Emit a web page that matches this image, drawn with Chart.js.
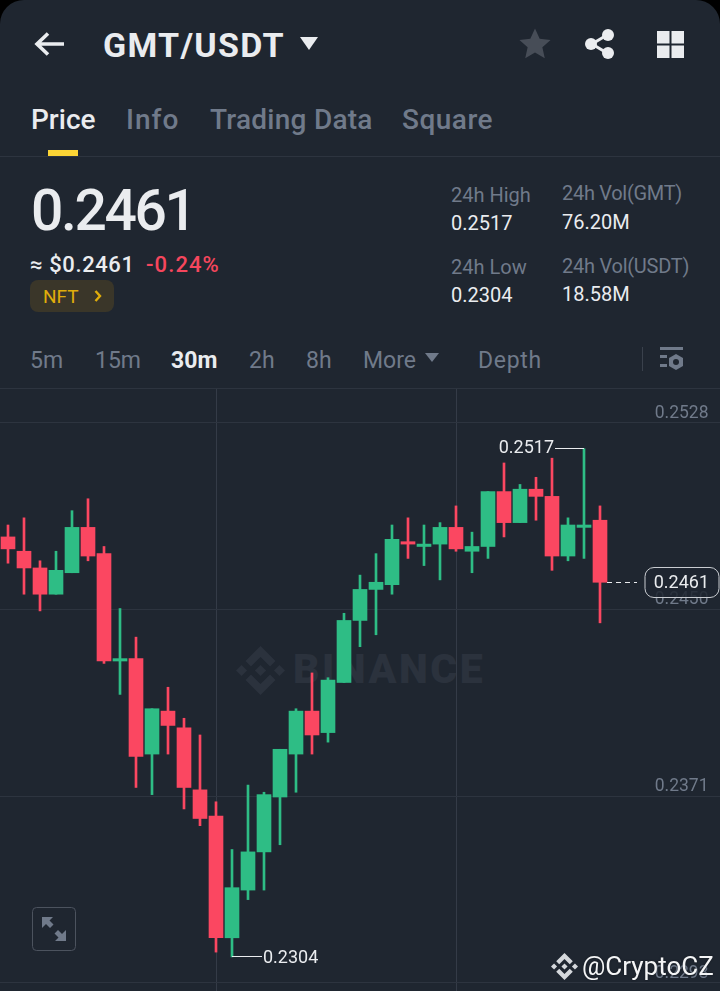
<!DOCTYPE html>
<html>
<head>
<meta charset="utf-8">
<title>GMT/USDT</title>
<script src="https://cdn.jsdelivr.net/npm/chart.js@4/dist/chart.umd.min.js"></script>
<style>
html,body{margin:0;padding:0;background:#000;}
#page{position:relative;width:720px;height:991px;overflow:hidden;background:#1f2630;border-radius:24px 24px 0 0;font-family:Roboto,"Noto Sans",sans-serif;}
#page span,#page svg,#page div{position:absolute;}
.t{white-space:nowrap;line-height:1;}
.w{color:#eaecef;}
.g{color:#707a8a;}
.tab{font-size:28px;font-weight:500;top:106px;}
.stat{font-size:20px;}
.tf{font-size:23px;top:349px;}
.line{left:0;width:720px;height:1px;background:#2d343f;}
#chart{position:absolute;left:0;top:389px;width:720px;height:602px;}
</style>
</head>
<body>
<div id="page">
<svg style="left:33px;top:30px" width="34" height="28" viewBox="0 0 34 28"><path d="M31 14H5M15 3.500L4 14l11 10.500" fill="none" stroke="#eaecef" stroke-width="3.600"/></svg>
<span class="t w" style="left:103px;top:28px;font-size:34px;font-weight:700;letter-spacing:1.300px">GMT/USDT</span>
<svg style="left:300px;top:37px" width="18" height="13"><path d="M0 0h18l-9 13z" fill="#eaecef"/></svg>
<svg style="left:518px;top:27px" width="34" height="34" viewBox="0 0 24 24"><path d="M12 1l3.300 7.300 7.700.8-5.800 5.200 1.700 7.700-6.900-4-6.900 4 1.700-7.700L1 9.100l7.700-.8z" fill="#474d57"/></svg>
<svg style="left:584px;top:28px" width="31" height="32" viewBox="0 0 31 32"><path d="M23 7L8 16l15 9" fill="none" stroke="#eaecef" stroke-width="3"/><circle cx="24" cy="7" r="6" fill="#eaecef"/><circle cx="7" cy="16" r="6" fill="#eaecef"/><circle cx="24" cy="25" r="6" fill="#eaecef"/></svg>
<svg style="left:657px;top:31px" width="27" height="27"><path d="M0 0h12.500v12.500H0zM14.500 0H27v12.500H14.500zM0 14.500h12.500V27H0zM14.500 14.500H27V27H14.500z" fill="#eaecef"/></svg>

<span class="t w tab" style="left:31px">Price</span>
<span class="t g tab" style="left:126px;letter-spacing:1px">Info</span>
<span class="t g tab" style="left:210px;letter-spacing:.25px">Trading Data</span>
<span class="t g tab" style="left:402px;letter-spacing:.5px">Square</span>
<div style="left:48px;top:150px;width:30px;height:6px;background:#fcd535"></div>
<div class="line" style="top:156px"></div>

<span class="t w" style="left:31px;top:182px;font-size:57px;font-weight:500;letter-spacing:-2.400px">0.2461</span>
<span class="t w" style="left:30px;top:254px;font-size:22px;font-weight:500;letter-spacing:.6px">≈ $0.2461</span>
<span class="t" style="left:146px;top:254px;font-size:22px;font-weight:500;letter-spacing:1.100px;color:#f6465d">-0.24%</span>
<div style="left:30px;top:280px;width:84px;height:32px;background:#3a3629;border-radius:8px"></div>
<span class="t" style="left:43px;top:287px;font-size:19px;color:#e0ad0b">NFT</span>
<svg style="left:94px;top:290px" width="8" height="12"><path d="M1.500 1l4.500 5-4.500 5" fill="none" stroke="#e0ad0b" stroke-width="2.400"/></svg>

<span class="t g stat" style="left:451px;top:185px">24h High</span>
<span class="t w stat" style="left:451px;top:213px">0.2517</span>
<span class="t g stat" style="left:451px;top:257px">24h Low</span>
<span class="t w stat" style="left:451px;top:285px">0.2304</span>
<span class="t g stat" style="left:562px;top:183px;letter-spacing:-.3px">24h Vol(GMT)</span>
<span class="t w stat" style="left:562px;top:212px">76.20M</span>
<span class="t g stat" style="left:562px;top:256px;letter-spacing:-.25px">24h Vol(USDT)</span>
<span class="t w stat" style="left:562px;top:284px">18.58M</span>

<span class="t g tf" style="left:30px">5m</span>
<span class="t g tf" style="left:95px">15m</span>
<span class="t w tf" style="left:171px;font-weight:700">30m</span>
<span class="t g tf" style="left:249px">2h</span>
<span class="t g tf" style="left:306px">8h</span>
<span class="t g tf" style="left:363px">More</span>
<svg style="left:425px;top:353px" width="14" height="9"><path d="M0 0h14l-7 9z" fill="#707a8a"/></svg>
<span class="t g tf" style="left:478px;letter-spacing:.7px">Depth</span>
<div style="left:642px;top:347px;width:1px;height:24px;background:#3a414c"></div>
<svg style="left:660px;top:346px" width="24" height="26" viewBox="0 0 24 26"><path d="M0 1h23v3H0zM0 9h7v3H0zM0 18h7v3H0z" fill="#707a8a"/><path d="M16 8l7 4v8l-7 4-7-4v-8z" fill="#707a8a"/><circle cx="16" cy="16" r="3" fill="#1f2630"/></svg>
<div class="line" style="top:388px"></div>

<!-- watermark sits behind the transparent canvas -->
<svg style="left:236px;top:646px" width="49" height="49" viewBox="0 0 126.610 126.610"><g fill="#2b323d"><path d="M38.730 53.200l24.590-24.580 24.600 24.600 14.300-14.310L63.320 0 24.430 38.900z"/><path d="M0 63.310L14.300 49l14.310 14.310-14.310 14.300z"/><path d="M38.730 73.410L63.320 98l24.600-24.600 14.310 14.290-38.910 38.920-38.890-38.900z"/><path d="M98 63.310L112.300 49l14.310 14.300-14.310 14.320z"/><path d="M77.830 63.300L63.320 48.780 48.810 63.280l14.510 14.500z"/></g></svg>
<span class="t" style="left:293px;top:649px;font-size:41px;font-weight:900;letter-spacing:2.500px;color:#2b323d">BINANCE</span>

<canvas id="chart" width="720" height="602"></canvas>

<svg style="left:32px;top:907px" width="44" height="44"><rect x=".5" y=".5" width="43" height="43" rx="4" fill="none" stroke="#4c535e"/><path d="M10 10h11l-3.500 3.500 4 4-3.500 3.500-4-4L10 21zM34 34H23l3.500-3.500-4-4 3.500-3.500 4 4L34 23z" fill="#707a8a"/></svg>

<svg style="left:551px;top:953px" width="27" height="27" viewBox="0 0 126.610 126.610"><g fill="#d5d8dc"><path d="M38.730 53.200l24.590-24.580 24.600 24.600 14.300-14.310L63.320 0 24.430 38.900z"/><path d="M0 63.310L14.300 49l14.310 14.310-14.310 14.300z"/><path d="M38.730 73.410L63.320 98l24.600-24.600 14.310 14.290-38.910 38.920-38.890-38.900z"/><path d="M98 63.310L112.300 49l14.310 14.300-14.310 14.320z"/><path d="M77.830 63.300L63.320 48.780 48.810 63.280l14.510 14.500z"/></g></svg>
<span class="t" style="left:582px;top:953px;font-size:26px;color:#f4f5f6;text-shadow:0 0 2px #14181f">@CryptoCZ</span>
</div>

<script>
// 30m candles
const opens = [0.2480,0.2474,0.2467,0.2456,0.2465,0.2484,0.2473,0.2428,0.2429,0.2389,0.2407,0.2400,0.2374,0.2363,0.2312,0.2332,0.2348,0.2371,0.2389,0.2407,0.2398,0.2419,0.2445,0.2458,0.2460,0.2478,0.2476,0.2477,0.2484,0.2474,0.2476,0.2499,0.2486,0.2500,0.2497,0.2472,0.2484,0.2487]
const closes = [0.2475,0.2467,0.2456,0.2466,0.2484,0.2472,0.2428,0.2429,0.2388,0.2408,0.2401,0.2375,0.2362,0.2312,0.2333,0.2348,0.2372,0.2391,0.2407,0.2397,0.2420,0.2445,0.2458,0.2461,0.2479,0.2477,0.2477,0.2484,0.2475,0.2476,0.2499,0.2486,0.2500,0.2497,0.2472,0.2485,0.2485,0.2461]
const highs = [0.2485,0.2488,0.2470,0.2474,0.2491,0.2496,0.2476,0.2450,0.2438,0.2408,0.2417,0.2404,0.2397,0.2369,0.2349,0.2376,0.2373,0.2391,0.2408,0.2423,0.2421,0.2448,0.2464,0.2473,0.2485,0.2488,0.2485,0.2486,0.2493,0.2482,0.2499,0.2511,0.2502,0.2505,0.2513,0.2488,0.2517,0.2493]
const lows = [0.2469,0.2456,0.2449,0.2456,0.2465,0.2470,0.2427,0.2414,0.2375,0.2372,0.2389,0.2366,0.2359,0.2306,0.2304,0.2328,0.2332,0.2351,0.2373,0.2389,0.2394,0.2419,0.2434,0.2439,0.2456,0.2471,0.2468,0.2462,0.2474,0.2465,0.2471,0.2480,0.2486,0.2487,0.2466,0.2470,0.2471,0.2444]

// the right side of the chart is empty room after the last candle
const emptySlots = 7
const slots = opens.map((o,i)=>i).concat(Array.from({length:emptySlots},(v,i)=>opens.length+i))
const priceTicks = [0.25278,0.24496,0.23714,0.22932]
const timeLines = [13,28]

const UP = "#2ebd85"
const DOWN = "#fb4761"
const candleColors = opens.map((o,i)=> closes[i]>=o ? UP : DOWN)

/* ---------------- HIGH / LOW / LAST MARKERS ---------------- */

const markers = {
id:"markers",
afterDatasetsDraw(chart){
const c = chart.ctx
const x = chart.scales.x
const y = chart.scales.y

const hi = Math.max(...highs)
const lo = Math.min(...lows)
const last = closes[closes.length-1]
const hiX = x.getPixelForValue(highs.indexOf(hi))
const loX = x.getPixelForValue(lows.indexOf(lo))
const lastX = x.getPixelForValue(closes.length-1)

c.save()
c.font = "18px Roboto"
c.strokeStyle = "#eaecef"
c.fillStyle = "#eaecef"
c.lineWidth = 1
c.textBaseline = "middle"

c.beginPath()
c.moveTo(hiX,Math.round(y.getPixelForValue(hi))-.5)
c.lineTo(hiX-29,Math.round(y.getPixelForValue(hi))-.5)
c.moveTo(loX,Math.round(y.getPixelForValue(lo))-.5)
c.lineTo(loX+30,Math.round(y.getPixelForValue(lo))-.5)
c.stroke()

c.textAlign = "right"
c.fillText(hi.toFixed(4),hiX-30,y.getPixelForValue(hi))
c.textAlign = "left"
c.fillText(lo.toFixed(4),loX+31,y.getPixelForValue(lo)+2)

const lastY = Math.round(y.getPixelForValue(last))+.5
c.setLineDash([5,4])
c.beginPath()
c.moveTo(lastX+7,lastY)
c.lineTo(lastX+37,lastY)
c.stroke()
c.setLineDash([])

c.beginPath()
c.roundRect(645,lastY-15,74,30,9)
c.fillStyle = "rgba(31,38,48,.85)"
c.fill()
c.strokeStyle = "#c9ccd1"
c.stroke()
c.fillStyle = "#eaecef"
c.textAlign = "right"
c.fillText(last.toFixed(4),709,lastY+1)
c.restore()
}
}

/* ---------------- CHART ---------------- */

new Chart(document.getElementById("chart").getContext("2d"),{
type:"bar",
data:{
labels:slots,
datasets:[
{
data:lows.map((l,i)=>[l,highs[i]]),
backgroundColor:candleColors,
barThickness:2,
grouped:false,
order:2
},
{
data:opens.map((o,i)=>[o,closes[i]]),
backgroundColor:candleColors,
barThickness:14,
grouped:false,
order:1
}
]
},
plugins:[markers],
options:{
responsive:false,
animation:false,
layout:{padding:0},
plugins:{legend:{display:false},tooltip:{enabled:false}},
scales:{
x:{
grid:{color:"#343b47",offset:false,drawTicks:false},
border:{display:false},
ticks:{display:false,autoSkip:false},
afterBuildTicks(scale){
scale.ticks = timeLines.map(v=>({value:v}))
}
},
y:{
position:"right",
min:0.22897,
max:0.2542,
grid:{color:"#2d343f",drawTicks:false},
border:{display:false},
ticks:{
mirror:true,
padding:-11.5,
labelOffset:-9.5,
color:"#707a8a",
font:{family:"Roboto",size:17.5},
callback:v=>v.toFixed(4)
},
afterBuildTicks(scale){
scale.ticks = priceTicks.map(v=>({value:v}))
},
afterFit(scale){
// labels sit inside the plot, so the axis takes no room
scale.width = 0
scale.paddingTop = 0
scale.paddingBottom = 0
}
}
}
}
})
</script>
</body>
</html>
